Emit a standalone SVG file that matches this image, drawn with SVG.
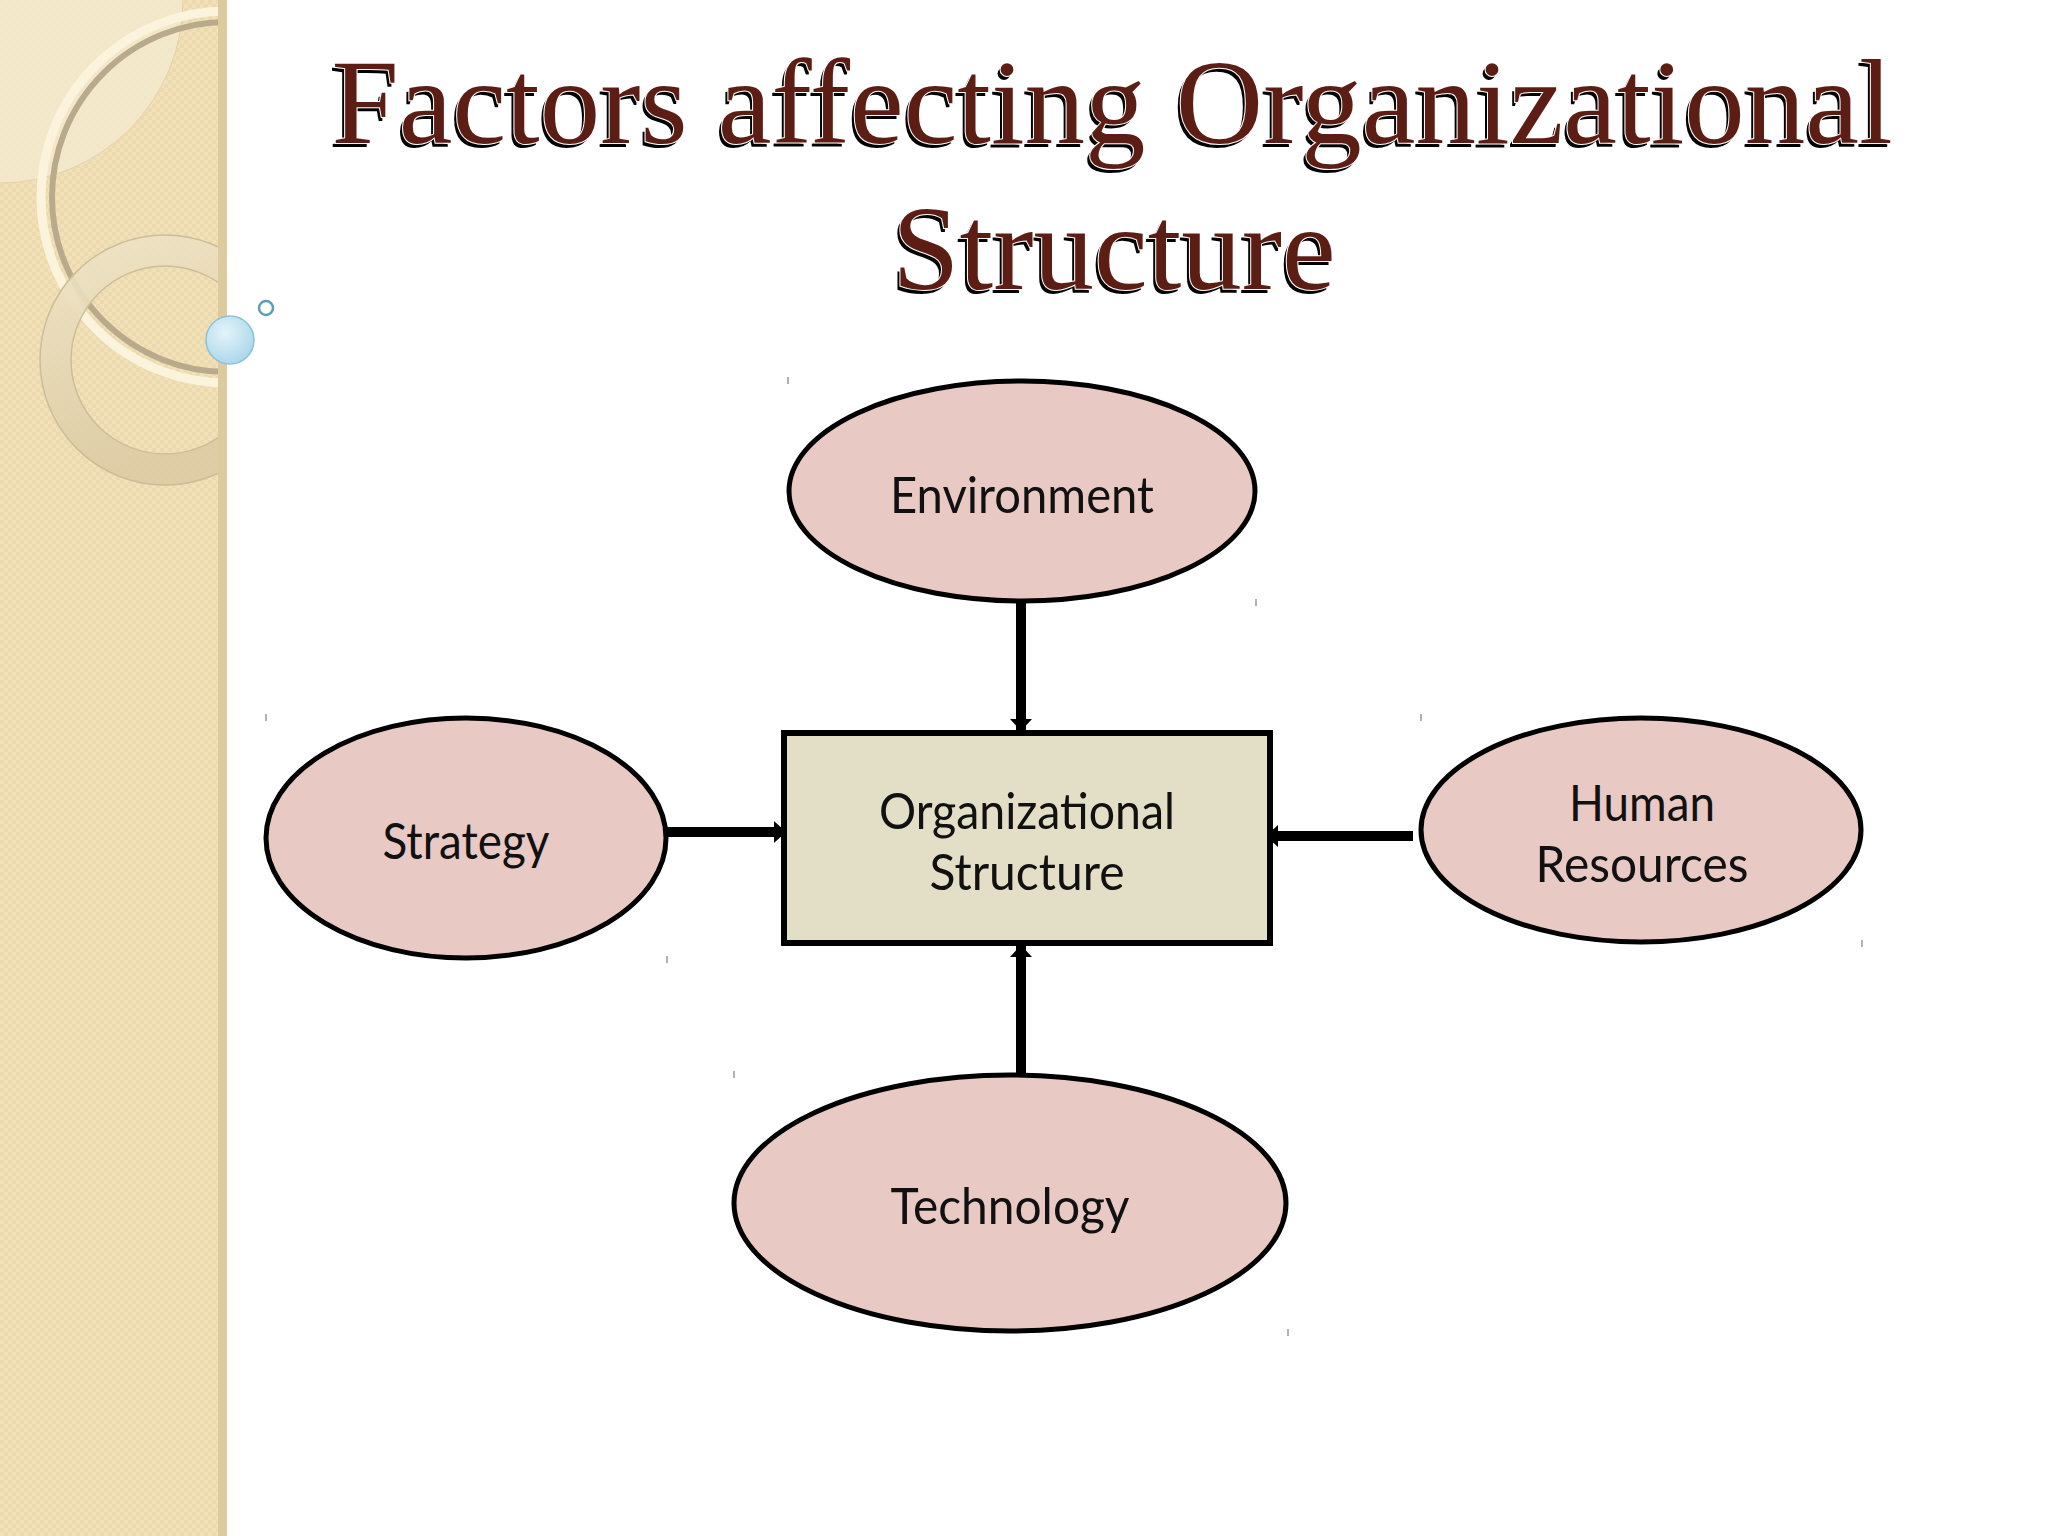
<svg xmlns="http://www.w3.org/2000/svg" width="2048" height="1536" viewBox="0 0 2048 1536">
  <defs>
    <style>
      .node { fill: #e8c9c3; stroke: #000; stroke-width: 5; }
      .box { fill: #e3dec6; stroke: #000; stroke-width: 6; }
      .lbl { font-family: Lato, "Open Sans", "DejaVu Sans", sans-serif; font-size: 50px; fill: #111; text-anchor: middle; }
      .title { font-family: "Liberation Serif", "Times New Roman", serif; font-size: 121px; text-anchor: middle; }
      .title-fg { fill: #5c1d14; stroke: #fff; stroke-width: 2; paint-order: stroke; }
      .conn { stroke: #000; stroke-width: 10; fill: none; }
      .tick { stroke: #999; stroke-width: 1.5; }
    </style>
    <pattern id="check" width="8" height="8" patternUnits="userSpaceOnUse">
      <rect width="8" height="8" fill="#f1e1b9"/>
      <rect width="4" height="4" fill="#ecdaae"/>
      <rect x="4" y="4" width="4" height="4" fill="#ecdaae"/>
    </pattern>
    <linearGradient id="ringGrad" x1="0" y1="0" x2="0.3" y2="1">
      <stop offset="0" stop-color="#efe3c6"/>
      <stop offset="1" stop-color="#dccba3"/>
    </linearGradient>
    <radialGradient id="bubble" cx="0.4" cy="0.35" r="0.7">
      <stop offset="0" stop-color="#e4f3fa"/>
      <stop offset="1" stop-color="#a9d6ea"/>
    </radialGradient>
    <clipPath id="bandClip"><rect x="0" y="0" width="227" height="1536"/></clipPath>
    <marker id="arrow" viewBox="0 0 12 22" refX="12" refY="11" markerWidth="12" markerHeight="22" markerUnits="userSpaceOnUse" orient="auto">
      <path d="M0,0 L12,11 L0,22 Z" fill="#000"/>
    </marker>
  </defs>

  <rect width="2048" height="1536" fill="#fff"/>

  <g id="sidebar">
    <rect x="0" y="0" width="227" height="1536" fill="url(#check)"/>
    <g clip-path="url(#bandClip)">
      <circle cx="0" cy="0" r="183" fill="#f5ead0" opacity="0.8"/>
      <circle cx="0" cy="0" r="183" fill="none" stroke="#e4d2a8" stroke-width="1"/>
      <circle cx="227" cy="197" r="186" fill="none" stroke="#fbf3dc" stroke-width="9"/>
      <circle cx="227" cy="197" r="175" fill="none" stroke="#b9aa8c" stroke-width="6"/>
      <circle cx="165" cy="360" r="110" fill="none" stroke="url(#ringGrad)" stroke-width="31" opacity="0.9"/>
      <circle cx="165" cy="360" r="125" fill="none" stroke="#cdbd98" stroke-width="1.5"/>
      <circle cx="165" cy="360" r="94" fill="none" stroke="#cdbd98" stroke-width="1.5"/>
    </g>
    <rect x="218" y="0" width="9" height="1536" fill="#dccb9f"/>
    <circle cx="230" cy="340" r="24" fill="url(#bubble)" stroke="#8cc2d8" stroke-width="1.5"/>
    <circle cx="266" cy="308" r="7" fill="none" stroke="#5e9fb2" stroke-width="2.5"/>
  </g>

  <g id="title">
    <text class="title" x="1109" y="147" fill="#000">Factors affecting Organizational</text>
    <text class="title title-fg" x="1112" y="143">Factors affecting Organizational</text>
    <text class="title" x="1111" y="293" fill="#000">Structure</text>
    <text class="title title-fg" x="1114" y="289">Structure</text>
  </g>

  <g id="connectors">
    <line class="conn" x1="1021" y1="603" x2="1021" y2="731" marker-end="url(#arrow)"/>
    <line class="conn" x1="667" y1="832" x2="786" y2="832" marker-end="url(#arrow)"/>
    <line class="conn" x1="1413" y1="836" x2="1266" y2="836" marker-end="url(#arrow)"/>
    <line class="conn" x1="1021" y1="1074" x2="1021" y2="945" marker-end="url(#arrow)"/>
  </g>

  <g id="node-structure">
    <rect class="box" x="784" y="733" width="486" height="210"/>
    <text class="lbl" x="1027" y="829" textLength="296" lengthAdjust="spacingAndGlyphs">Organizational</text>
    <text class="lbl" x="1027" y="890" textLength="195" lengthAdjust="spacingAndGlyphs">Structure</text>
  </g>

  <g id="node-environment">
    <ellipse class="node" cx="1022" cy="491" rx="233" ry="110"/>
    <text class="lbl" x="1022" y="513" textLength="264" lengthAdjust="spacingAndGlyphs">Environment</text>
  </g>

  <g id="node-strategy">
    <ellipse class="node" cx="466" cy="838" rx="200" ry="120"/>
    <text class="lbl" x="466" y="859" textLength="167" lengthAdjust="spacingAndGlyphs">Strategy</text>
  </g>

  <g id="node-human-resources">
    <ellipse class="node" cx="1641" cy="830" rx="220" ry="112"/>
    <text class="lbl" x="1642" y="821" textLength="146" lengthAdjust="spacingAndGlyphs">Human</text>
    <text class="lbl" x="1642" y="882" textLength="213" lengthAdjust="spacingAndGlyphs">Resources</text>
  </g>

  <g id="node-technology">
    <ellipse class="node" cx="1010" cy="1203" rx="276" ry="128"/>
    <text class="lbl" x="1010" y="1224" textLength="239" lengthAdjust="spacingAndGlyphs">Technology</text>
  </g>

  <g id="ticks">
    <line class="tick" x1="788" y1="377" x2="788" y2="384"/>
    <line class="tick" x1="1256" y1="599" x2="1256" y2="606"/>
    <line class="tick" x1="266" y1="714" x2="266" y2="721"/>
    <line class="tick" x1="667" y1="956" x2="667" y2="963"/>
    <line class="tick" x1="1421" y1="714" x2="1421" y2="721"/>
    <line class="tick" x1="1862" y1="940" x2="1862" y2="947"/>
    <line class="tick" x1="734" y1="1071" x2="734" y2="1078"/>
    <line class="tick" x1="1288" y1="1329" x2="1288" y2="1336"/>
  </g>
</svg>
